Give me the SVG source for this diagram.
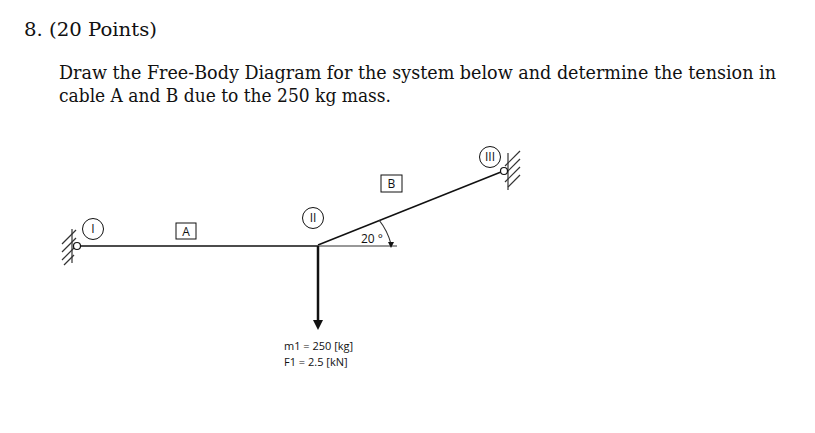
<svg xmlns="http://www.w3.org/2000/svg" width="815" height="433" viewBox="0 0 815 433">
<style>
.t{font-family:"DejaVu Serif","Liberation Serif",serif;font-size:18px;fill:#111}
.s{font-family:"Open Sans","DejaVu Sans",sans-serif;font-size:12px;fill:#111}
.m{font-family:"Open Sans","DejaVu Sans",sans-serif;font-size:11px;fill:#111}
.l{stroke:#111;stroke-width:1.5;fill:none}
.g{stroke:#333;stroke-width:1.2;fill:none}
.c{stroke:#111;stroke-width:1.2;fill:#fff}
</style>
<rect width="815" height="433" fill="#fff"/>
<text class="t" x="24" y="36" textLength="133" lengthAdjust="spacingAndGlyphs">8.  (20 Points)</text>
<text class="t" x="59" y="79" textLength="717" lengthAdjust="spacingAndGlyphs">Draw the Free-Body Diagram for the system below and determine the tension in</text>
<text class="t" x="59" y="102" textLength="332" lengthAdjust="spacingAndGlyphs">cable A and B due to the 250 kg mass.</text>
<g id="connectors">
<line class="l" x1="80" y1="246" x2="318" y2="246"/>
<line class="g" x1="318" y1="246" x2="397" y2="246"/>
<line class="l" x1="318" y1="245" x2="501" y2="172"/>
<line x1="318" y1="246" x2="318" y2="322" stroke="#111" stroke-width="2.5"/>
<polygon points="313,320 323,320 318,330" fill="#111"/>
<path class="g" d="M379,220 A65,65 0 0 1 391,244"/>
<polygon points="388,242 394,242 391,248" fill="#111"/>
</g>
<g id="wallI">
<line class="g" x1="72" y1="229" x2="72" y2="263"/>
<line class="g" x1="76" y1="230" x2="62" y2="244"/>
<line class="g" x1="76" y1="238" x2="62" y2="252"/>
<line class="g" x1="76" y1="246" x2="62" y2="260"/>
<line class="g" x1="74" y1="255" x2="64" y2="265"/>
<circle class="c" cx="77" cy="246" r="3.5"/>
<circle cx="93" cy="229" r="10.5" fill="none" stroke="#111"/>
<text class="s" x="93" y="233" text-anchor="middle">I</text>
</g>
<g id="wallIII">
<line class="g" x1="508" y1="153" x2="508" y2="190"/>
<line class="g" x1="505" y1="166" x2="520" y2="151"/>
<line class="g" x1="505" y1="174" x2="520" y2="159"/>
<line class="g" x1="505" y1="182" x2="520" y2="167"/>
<line class="g" x1="508" y1="187" x2="520" y2="175"/>
<circle class="c" cx="504" cy="171" r="3.5"/>
<circle cx="490" cy="157" r="10.5" fill="none" stroke="#111"/>
<text class="s" x="490" y="161" text-anchor="middle">III</text>
</g>
<g id="nodeII">
<circle cx="313" cy="218" r="10.5" fill="none" stroke="#111"/>
<text class="s" x="313" y="222" text-anchor="middle">II</text>
</g>
<g id="labelA">
<rect x="176" y="223" width="20" height="16" fill="#fff" stroke="#111"/>
<text class="s" x="186" y="235.5" text-anchor="middle">A</text>
</g>
<g id="labelB">
<rect x="381" y="175" width="21" height="17" fill="#fff" stroke="#111"/>
<text class="s" x="391.5" y="188" text-anchor="middle">B</text>
</g>
<text class="s" x="361" y="243">20 °</text>
<text class="m" x="284" y="350">m1 = 250 [kg]</text>
<text class="m" x="284" y="366">F1  = 2.5 [kN]</text>
</svg>
